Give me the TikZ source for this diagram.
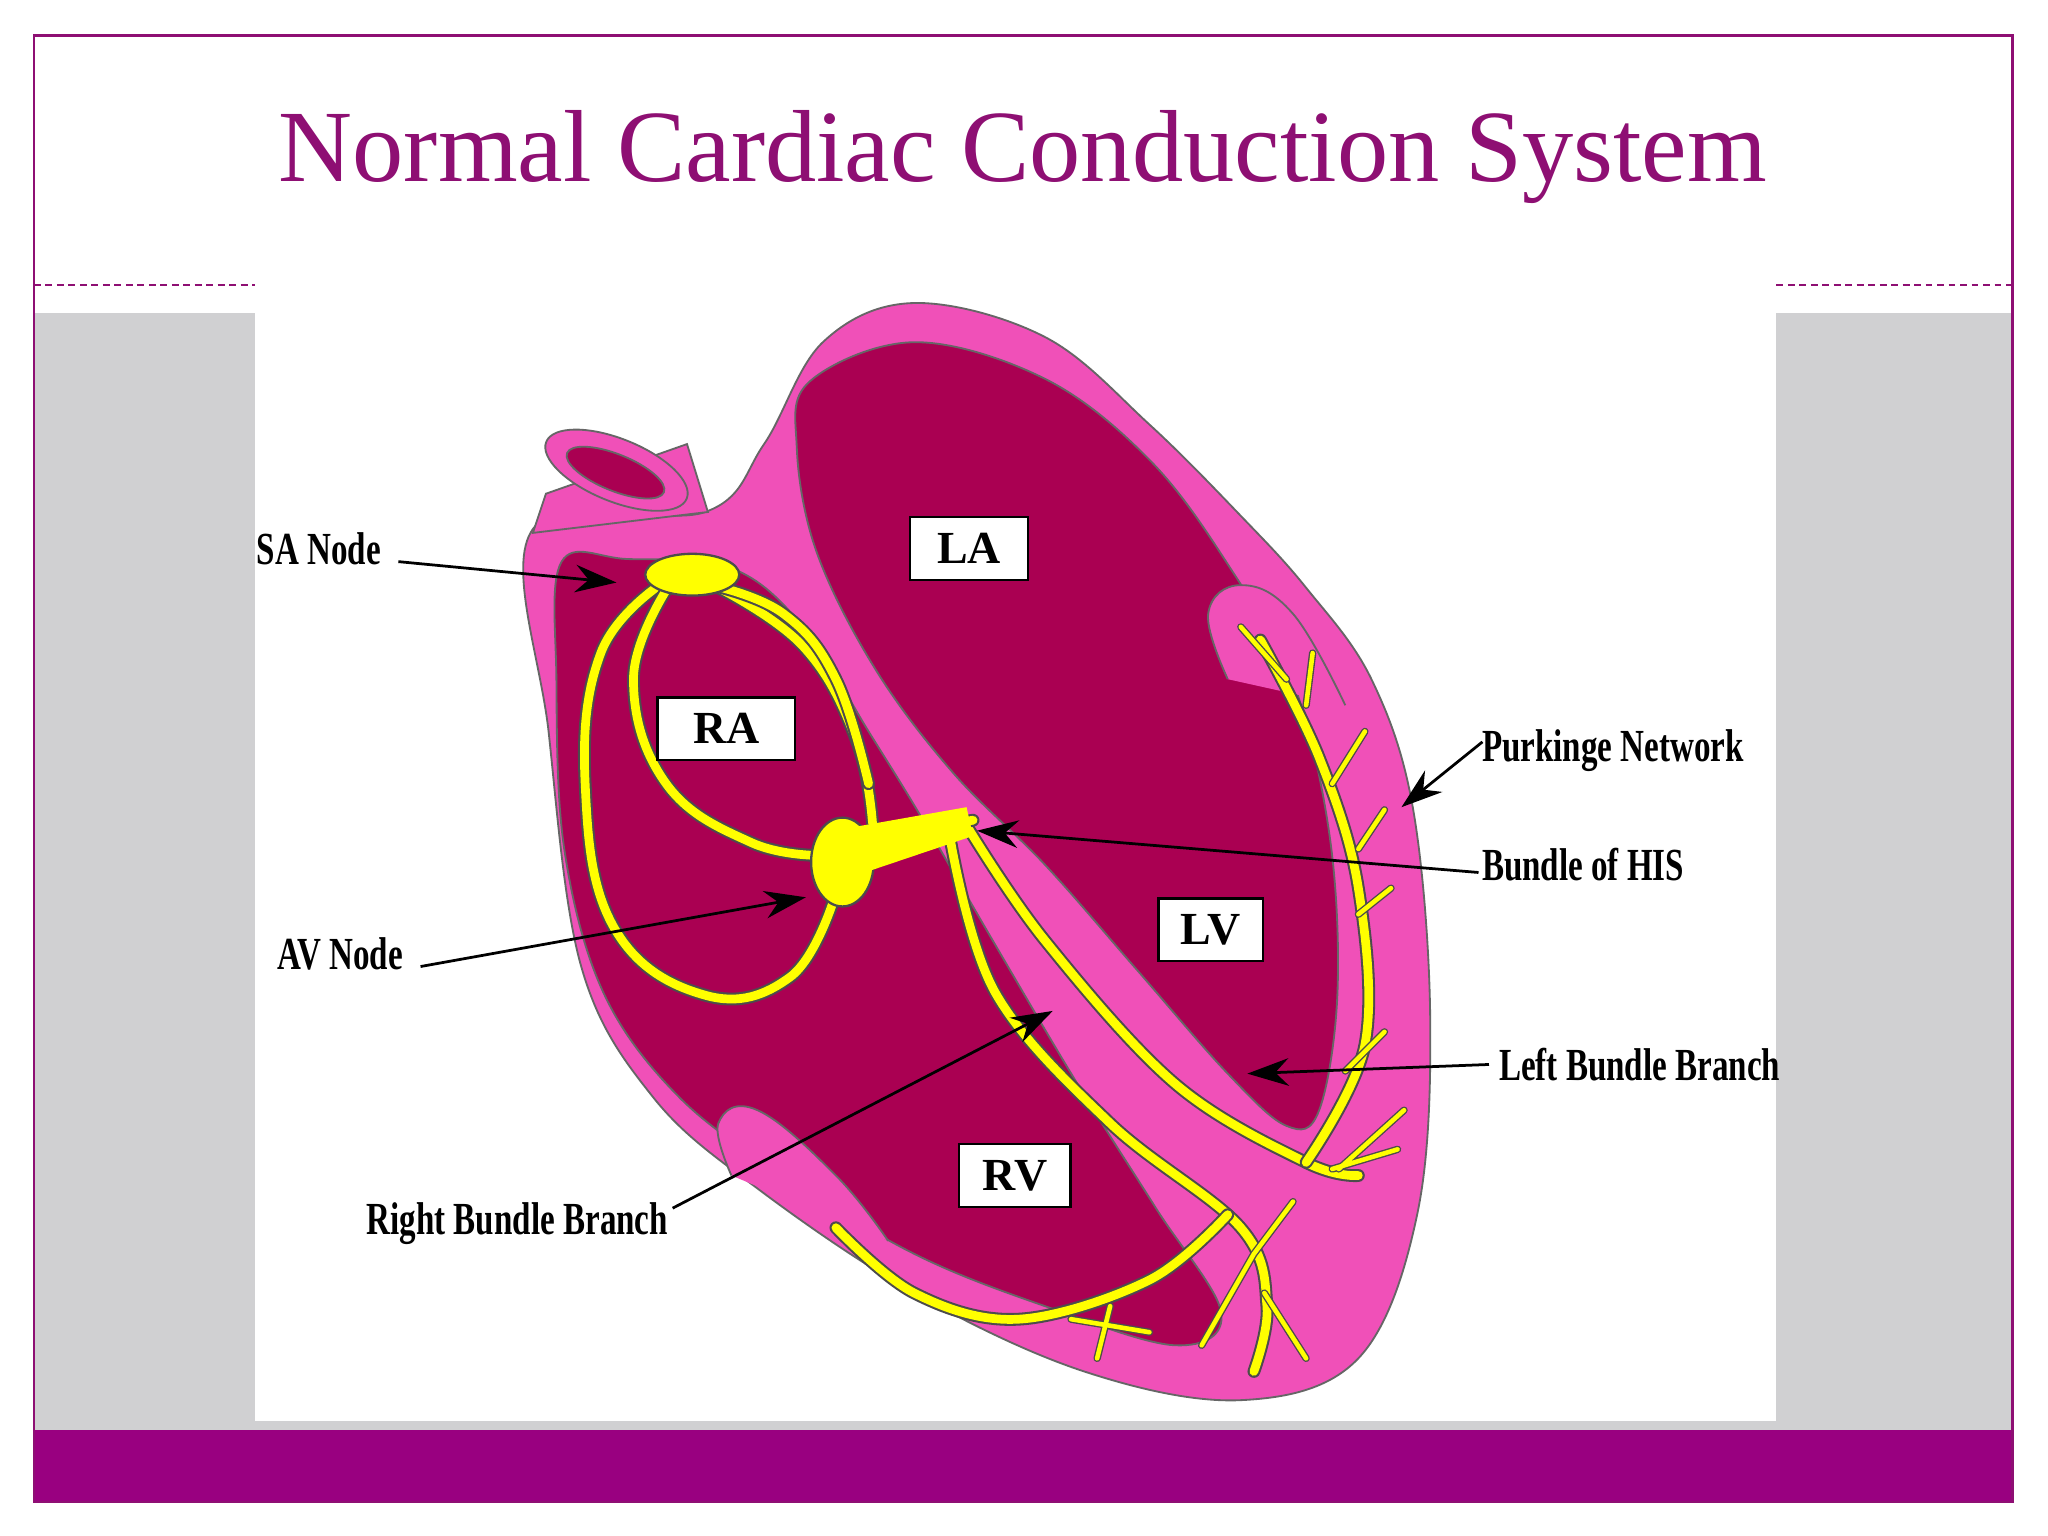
\documentclass[tikz,border=0pt]{standalone}
\usepackage{fontspec}
\setmainfont{Liberation Serif}
\usetikzlibrary{arrows.meta}
\definecolor{ttl}{HTML}{8E0F73}
\definecolor{bar}{HTML}{990080}
\definecolor{graybg}{HTML}{D0D0D2}
\definecolor{pinkh}{HTML}{F050B8}
\definecolor{darkh}{HTML}{AA0052}
\definecolor{yel}{HTML}{FFFF00}
\tikzset{
 lbl/.style={font=\fontsize{10}{12}\selectfont\bfseries, inner sep=0pt},
 box/.style={draw=black, fill=white, line width=0.5pt, minimum width=0.9cm, minimum height=0.48cm, font=\fontsize{10}{12}\selectfont\bfseries},
 arr/.style={-{Stealth[length=9pt,width=6pt]}, line width=0.6pt},
 cond/.style={draw=black!70, line width=2.8pt, line cap=round, line join=round},
 condy/.style={draw=yel, line width=1.9pt, line cap=round, line join=round},
 twig/.style={draw=black!70, line width=1.6pt, line cap=round},
 twigy/.style={draw=yel, line width=1pt, line cap=round},
}
\newcommand{\cnd}[1]{\draw[cond] #1; \draw[condy] #1;}
\newcommand{\twg}[1]{\draw[twig] #1; \draw[twigy] #1;}
\begin{document}
\begin{tikzpicture}[x=0.01cm,y=-0.01cm]
\useasboundingbox (0,0) rectangle (1568,1176);
\fill[white] (0,0) rectangle (1568,1176);
\fill[graybg] (26,240) rectangle (1541,1095);
\fill[bar] (26,1095) rectangle (1541,1150);
\draw[ttl, line width=0.6pt] (26,27) rectangle (1541,1150);
\draw[ttl, dash pattern=on 1.5pt off 1pt, line width=0.4pt] (26,218) -- (195,218) (1360,218) -- (1541,218);
\node[ttl, font=\fontsize{22.3}{26}\selectfont] (title) at (783,120) {Normal Cardiac Conduction System};
\fill[white] (195,180) rectangle (1360,1088);
% heart outer
\draw[fill=pinkh, draw=black!60, line width=0.4pt] plot[smooth cycle, tension=0.6] coordinates {
 (408,405) (420,560) (445,740) (500,840) (580,910) (700,990) (830,1050) (950,1072) (1040,1040) (1085,930) (1095,780) (1082,620) (1050,520) (1000,450) (950,395) (880,325) (800,258) (700,232) (630,262) (585,340) (540,392)};
% aorta tube
\draw[fill=pinkh, draw=black!60, line width=0.4pt] (408,408) -- (418,378) -- (526,340) -- (542,392) -- cycle;
\draw[fill=pinkh, draw=black!60, line width=0.4pt, rotate around={-22:(472,360)}] (472,360) ellipse (58 and 24);
\draw[fill=darkh, draw=black!60, line width=0.4pt, rotate around={-22:(472,360)}] (472,362) ellipse (40 and 14);
% chambers
\draw[fill=darkh, draw=black!60, line width=0.4pt] plot[smooth cycle, tension=0.6] coordinates {
 (430,430) (480,428) (560,435) (615,480) (665,560) (705,625) (760,720) (825,830) (885,925) (935,1005) (900,1030) (800,1000) (700,960) (600,900) (520,840) (462,760) (432,650) (426,520)};
\draw[fill=darkh, draw=black!60, line width=0.4pt] plot[smooth cycle, tension=0.6] coordinates {
 (620,292) (700,262) (800,290) (880,352) (940,432) (990,522) (1018,640) (1024,760) (1010,850) (985,862) (940,822) (870,742) (800,662) (730,592) (670,512) (625,422) (610,342)};
% appendage and flap
\draw[fill=pinkh, draw=black!60, line width=0.4pt] plot[smooth, tension=0.7] coordinates {(940,520) (925,470) (950,448) (990,470) (1030,540)};
\draw[fill=pinkh, draw=black!60, line width=0.4pt] plot[smooth, tension=0.7] coordinates {(560,900) (550,860) (580,850) (640,900) (680,950)};
% conduction
\cnd{plot[smooth, tension=0.7] coordinates {(505,448) (460,500) (448,600) (470,710) (540,762) (605,748) (638,690)}}
\cnd{plot[smooth, tension=0.7] coordinates {(510,452) (485,520) (510,600) (575,645) (630,655)}}
\cnd{plot[smooth, tension=0.7] coordinates {(550,450) (615,495) (655,565) (668,630)}}
\cnd{plot[smooth, tension=0.7] coordinates {(545,448) (600,470) (640,520) (665,600)}}
\cnd{plot[smooth, tension=0.6] coordinates {(740,632) (800,720) (900,830) (1000,890) (1040,900)}}
\cnd{plot[smooth, tension=0.6] coordinates {(728,645) (762,760) (850,860) (950,940) (970,1000) (960,1050)}}
\cnd{plot[smooth, tension=0.6] coordinates {(1000,890) (1045,800) (1040,680) (1010,580) (965,490)}}
\cnd{plot[smooth, tension=0.6] coordinates {(940,930) (880,980) (780,1010) (700,990) (640,940)}}
\twg{(1020,895) -- (1070,880) (1025,895) -- (1075,850) (1040,700) -- (1065,680) (1040,650) -- (1060,620) (1020,600) -- (1045,560) (1000,540) -- (1005,500) (985,520) -- (950,480) (968,990) -- (1000,1040) (960,960) -- (920,1030) (960,960) -- (990,920) (850,1000) -- (840,1040) (820,1010) -- (880,1020) (1030,820) -- (1060,790)}
\cnd{(660,640) -- (745,628)}
\fill[yel, draw=black!70, line width=0.5pt] (530,440) ellipse (36 and 16);
\fill[yel, draw=black!70, line width=0.5pt] (645,660) ellipse (24 and 34);
\fill[yel] (655,633) -- (740,618) -- (745,640) -- (665,667) -- cycle;
% boxes
\node[box] (LA) at (742,420) {LA};
\node[box, minimum width=1.05cm] (RA) at (556,558) {RA};
\node[box, minimum width=0.8cm] (LV) at (927,712) {LV};
\node[box, minimum width=0.85cm] (RV) at (777,900) {RV};
% labels
\node[lbl, anchor=west] (sa) at (196,420) {\scalebox{0.72}[1]{SA Node}};
\node[lbl, anchor=west] (av) at (212,730) {\scalebox{0.72}[1]{AV Node}};
\node[lbl, anchor=west] (rbb) at (280,937) {\scalebox{0.72}[1]{Right Bundle Branch}};
\node[lbl, anchor=west] (lbb) at (1147,815) {\scalebox{0.72}[1]{Left Bundle Branch}};
\node[lbl, anchor=west] (his) at (1134,662) {\scalebox{0.72}[1]{Bundle of HIS}};
\node[lbl, anchor=west] (pk) at (1134,575) {\scalebox{0.72}[1]{Purkinge Network}};
\coordinate (tsa) at (472,446);
\coordinate (tav) at (617,687);
\coordinate (trb) at (806,774);
\coordinate (tlb) at (955,822);
\coordinate (this) at (748,636);
\coordinate (tpk) at (1073,618);
\draw[arr] (305,430) -- (tsa);
\draw[arr] (322,740) -- (tav);
\draw[arr] (515,925) -- (trb);
\draw[arr] (1140,815) -- (tlb);
\draw[arr] (1132,668) -- (this);
\draw[arr] (1135,568) -- (tpk);
\end{tikzpicture}
\end{document}
